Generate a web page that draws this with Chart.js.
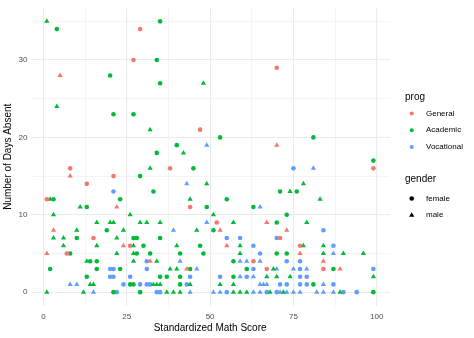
<!DOCTYPE html>
<html>
<head>
<meta charset="utf-8">
<script src="https://cdn.jsdelivr.net/npm/chart.js@4"></script>
<style>
  html, body { margin: 0; padding: 0; background: #ffffff; }
  #wrap { position: relative; width: 474px; height: 338px; }
</style>
</head>
<body>
<div id="wrap"><canvas id="absences" width="474" height="338"></canvas></div>
<script>
// [math score, days absent] per program / gender group
const generalFemale = [[29,34],[27,30],[70,29],[47,21],[8,16],[21,15],[13,14],[38,16],[99,16],[1,12],
  [44,11],[52,9],[15,7],[26,6],[7,5],[63,4],[67,3],[71,7],[77,6],[84,3]];
const generalMale = [[5,28],[8,15],[70,19],[22,11],[3,8],[24,6],[1,5],[32,4],[67,9],[53,8],
  [55,6],[43,3],[73,8],[77,5],[84,4],[89,3]];
const academicFemale = [[4,34],[20,28],[34,30],[35,35],[35,27],[21,23],[27,23],[29,15],[33,13],[3,12],
  [23,12],[53,20],[40,19],[34,18],[45,16],[55,12],[81,20],[99,17],[71,13],[76,13],[13,11],[19,8],
  [10,7],[27,7],[28,7],[30,6],[8,5],[28,5],[32,5],[14,4],[16,4],[2,3],[16,3],[23,3],[13,2],[26,1],
  [27,1],[21,0],[29,0],[49,11],[63,11],[51,8],[35,7],[47,6],[41,5],[48,5],[57,4],[44,3],[61,3],
  [35,2],[37,2],[41,2],[57,2],[41,1],[73,10],[70,9],[70,5],[73,5],[87,3],[81,1],[99,0]];
const academicMale = [[1,35],[4,24],[48,27],[32,21],[32,16],[42,18],[49,14],[44,12],[78,14],[74,13],
  [83,12],[2,12],[11,11],[3,10],[26,10],[16,9],[20,9],[21,9],[29,9],[31,9],[10,8],[24,8],[3,7],
  [6,7],[22,7],[6,6],[16,6],[27,6],[22,5],[27,5],[13,4],[27,4],[14,1],[15,1],[1,0],[12,0],[51,10],
  [35,9],[57,9],[46,8],[40,6],[59,6],[59,5],[34,4],[38,3],[40,3],[44,1],[53,1],[57,1],[33,1],
  [34,1],[35,1],[37,0],[39,0],[41,0],[57,0],[59,0],[61,0],[68,0],[72,0],[89,0],[79,9],[78,6],
  [84,6],[84,5],[90,5],[96,5],[69,3],[67,2],[70,2],[74,2],[99,2]];
const vocationalFemale = [[21,13],[75,16],[31,4],[20,3],[21,3],[31,3],[20,2],[21,2],[26,2],[24,1],
  [29,1],[31,1],[32,1],[22,0],[34,0],[35,0],[55,0],[67,0],[70,0],[90,0],[94,0],[55,7],[59,7],
  [63,6],[65,5],[63,3],[44,2],[53,2],[61,2],[43,1],[84,8],[70,7],[87,6],[73,4],[77,4],[77,3],
  [99,3],[77,2],[79,2],[71,1],[73,1],[77,1],[79,1],[87,1]];
const vocationalMale = [[49,19],[43,14],[81,16],[65,11],[8,1],[10,1],[15,0],[44,0],[51,0],[53,0],
  [63,0],[65,0],[71,0],[73,0],[75,0],[77,0],[82,0],[84,0],[87,0],[49,9],[39,8],[41,4],[59,4],
  [61,4],[65,4],[46,3],[59,2],[63,2],[65,1],[66,1],[67,1],[87,5],[70,3],[75,3],[79,3],[84,1]];

const progNames = ['General', 'Academic', 'Vocational'];
const genderNames = ['female', 'male'];
const xTicks = [0, 12.5, 25, 37.5, 50, 62.5, 75, 87.5, 100];
const yTicks = [0, 5, 10, 15, 20, 25, 30, 35];

const progColors = { General: '#F8766D', Academic: '#00BA38', Vocational: '#619CFF' };
const FONT = '"Liberation Sans", Arial, sans-serif';

const toPoints = arr => arr.map(p => ({ x: p[0], y: p[1] }));

function makeSet(label, prog, gender, arr) {
  const male = gender === 'male';
  return {
    label: label,
    data: toPoints(arr),
    pointStyle: male ? 'triangle' : 'circle',
    pointRadius: male ? 3 : 2.3,
    pointBorderWidth: 0,
    pointBackgroundColor: progColors[prog],
    borderWidth: 0,
    showLine: false
  };
}

const datasets = [
  makeSet('General female', 'General', 'female', generalFemale),
  makeSet('General male', 'General', 'male', generalMale),
  makeSet('Academic female', 'Academic', 'female', academicFemale),
  makeSet('Academic male', 'Academic', 'male', academicMale),
  makeSet('Vocational female', 'Vocational', 'female', vocationalFemale),
  makeSet('Vocational male', 'Vocational', 'male', vocationalMale)
];

// two-part legend on the right, ggplot style
const sideLegend = {
  id: 'sideLegend',
  afterDraw(chart) {
    const ctx = chart.ctx;
    ctx.save();
    ctx.textBaseline = 'middle';
    ctx.textAlign = 'left';
    ctx.fillStyle = '#000000';
    ctx.font = '10px ' + FONT;
    ctx.fillText('prog', 405, 97);
    ctx.font = '8px ' + FONT;
    progNames.forEach((name, i) => {
      const y = 113.5 + i * 16.7;
      ctx.fillStyle = progColors[name];
      ctx.beginPath();
      ctx.arc(411.7, y, 2, 0, Math.PI * 2);
      ctx.fill();
      ctx.fillStyle = '#000000';
      ctx.fillText(name, 426, y);
    });
    ctx.font = '10px ' + FONT;
    ctx.fillText('gender', 405, 179.5);
    ctx.font = '8px ' + FONT;
    genderNames.forEach((name, i) => {
      const y = 198.5 + i * 16.7;
      ctx.fillStyle = '#000000';
      Chart.helpers.drawPoint(ctx, {
        pointStyle: name === 'male' ? 'triangle' : 'circle',
        radius: name === 'male' ? 3 : 2.3,
        rotation: 0,
        borderWidth: 0
      }, 411.7, y);
      ctx.fillText(name, 426, y);
    });
    ctx.restore();
  }
};

const gridColor = '#EBEBEB';

new Chart(document.getElementById('absences'), {
  type: 'scatter',
  data: { datasets: datasets },
  plugins: [sideLegend],
  options: {
    responsive: false,
    animation: false,
    layout: { padding: { left: 0, right: 84.3, top: 5.4, bottom: 0 } },
    plugins: {
      legend: { display: false },
      tooltip: { enabled: false }
    },
    scales: {
      x: {
        type: 'linear',
        min: -3.9,
        max: 103.9,
        afterBuildTicks: scale => { scale.ticks = xTicks.map(v => ({ value: v })); },
        afterFit: scale => { scale.height = 32.3; },
        border: { display: false },
        grid: {
          drawTicks: false,
          color: gridColor,
          lineWidth: c => (c.tick && c.tick.value % 25 === 0 ? 1.1 : 0.55)
        },
        ticks: {
          padding: 6,
          autoSkip: false,
          maxRotation: 0,
          color: '#4D4D4D',
          font: { family: FONT, size: 8 },
          callback: v => (v % 25 === 0 ? String(v) : '')
        },
        title: {
          display: true,
          text: 'Standardized Math Score',
          color: '#000000',
          font: { family: FONT, size: 10 },
          padding: { top: 0, bottom: 4 }
        }
      },
      y: {
        type: 'linear',
        min: -1.75,
        max: 36.75,
        afterBuildTicks: scale => { scale.ticks = yTicks.map(v => ({ value: v })); },
        afterFit: scale => { scale.width = 30.5; },
        border: { display: false },
        grid: {
          drawTicks: false,
          color: gridColor,
          lineWidth: c => (c.tick && c.tick.value % 10 === 0 ? 1.1 : 0.55)
        },
        ticks: {
          padding: 3,
          autoSkip: false,
          color: '#4D4D4D',
          font: { family: FONT, size: 8 },
          callback: v => (v % 10 === 0 ? String(v) : '')
        },
        title: {
          display: true,
          text: 'Number of Days Absent',
          color: '#000000',
          font: { family: FONT, size: 10 },
          padding: { top: 2, bottom: 0 }
        }
      }
    }
  }
});
</script>
</body>
</html>
